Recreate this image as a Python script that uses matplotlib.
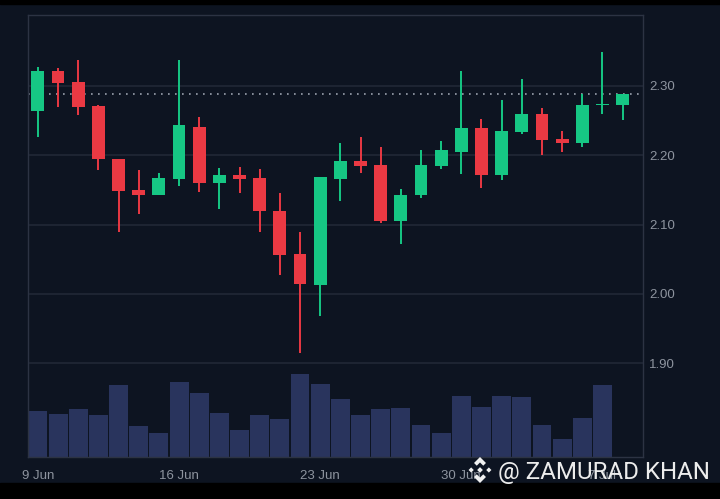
import numpy as np
import matplotlib
matplotlib.use("Agg")
import matplotlib.pyplot as plt
from matplotlib.patches import Rectangle, Polygon

# ---- data ----
opens  = [2.264, 2.322, 2.306, 2.271, 2.195, 2.150, 2.142, 2.166, 2.241, 2.160,
          2.172, 2.167, 2.120, 2.058, 2.013, 2.166, 2.191, 2.186, 2.105, 2.142,
          2.185, 2.205, 2.240, 2.171, 2.234, 2.259, 2.223, 2.218, 2.272, 2.273]
closes = [2.322, 2.304, 2.270, 2.194, 2.148, 2.142, 2.167, 2.243, 2.160, 2.171,
          2.166, 2.119, 2.056, 2.014, 2.168, 2.191, 2.185, 2.105, 2.143, 2.186,
          2.207, 2.240, 2.171, 2.235, 2.259, 2.222, 2.218, 2.273, 2.274, 2.288]
highs  = [2.328, 2.326, 2.337, 2.273, 2.195, 2.179, 2.175, 2.337, 2.255, 2.181,
          2.183, 2.180, 2.145, 2.089, 2.168, 2.217, 2.227, 2.212, 2.151, 2.207,
          2.220, 2.322, 2.253, 2.280, 2.310, 2.268, 2.235, 2.289, 2.349, 2.288]
lows   = [2.226, 2.270, 2.258, 2.179, 2.089, 2.115, 2.142, 2.156, 2.147, 2.122,
          2.145, 2.089, 2.027, 1.914, 1.968, 2.134, 2.175, 2.102, 2.072, 2.138,
          2.180, 2.173, 2.152, 2.164, 2.230, 2.200, 2.204, 2.212, 2.259, 2.251]
volumes = [45.7, 43.4, 48.0, 42.0, 72.0, 31.0, 23.7, 75.4, 63.7, 44.4,
           27.4, 42.0, 38.4, 82.7, 73.4, 57.7, 42.0, 48.0, 49.0, 32.4,
           24.0, 61.0, 50.4, 61.4, 60.0, 32.4, 18.0, 39.4, 72.0, 0.0]
date_tick_idx = [0, 7, 14, 21, 28]
date_tick_labels = ["9 Jun", "16 Jun", "23 Jun", "30 Jun", "7 Jul"]
price_ticks = [1.90, 2.00, 2.10, 2.20, 2.30]
last_price = 2.288

# ---- style ----
BG = "#0d1421"
GREEN = "#16c784"
RED = "#ea3943"
VOL = "#29345d"
GRID = "#222a38"
FRAME = "#2c3343"
TXT = "#8e949f"

W, H = 720, 499
fig = plt.figure(figsize=(W / 100, H / 100), dpi=100, facecolor=BG)

L, R, T, B = 28, 643, 15, 457
rect = [L / W, 1 - B / H, (R - L) / W, (B - T) / H]

axv = fig.add_axes(rect, zorder=0)
axv.set_facecolor(BG)
ax = fig.add_axes(rect, zorder=1)
ax.set_facecolor("none")

x = np.arange(len(opens))
o = np.array(opens); c = np.array(closes)
hi = np.array(highs); lo = np.array(lows)
up = c >= o
cols = np.where(up, GREEN, RED)

xlim = (-0.49, 30.01)

# volume
axv.bar(x, volumes, width=0.94, color=VOL, edgecolor="none")
axv.set_xlim(*xlim)
axv.set_ylim(0, 442)
axv.axis("off")

# candles
ax.vlines(x, lo, hi, colors=cols, linewidth=1.4, zorder=2)
body_h = np.maximum(np.abs(c - o), 0.0025)
ax.bar(x, body_h, bottom=np.minimum(o, c), width=0.64, color=cols,
       edgecolor="none", zorder=3)

ax.axhline(last_price, color="#9aa1ad", linewidth=1.2, linestyle=(0, (1, 3.2)),
           zorder=1)

ax.set_xlim(*xlim)
ax.set_ylim(1.7643, 2.4025)
ax.set_yticks(price_ticks)
ax.set_yticklabels([f"{p:.2f}" for p in price_ticks])
ax.yaxis.tick_right()
ax.set_xticks(date_tick_idx)
ax.set_xticklabels(date_tick_labels)
ax.grid(axis="y", color=GRID, linewidth=1.1, zorder=0)
ax.set_axisbelow(True)
ax.tick_params(axis="both", length=0, colors=TXT, labelsize=9.5)
ax.tick_params(axis="y", pad=4.5)
ax.tick_params(axis="x", pad=9.5)
for lab in ax.get_xticklabels() + ax.get_yticklabels():
    lab.set_fontfamily("Liberation Sans")
for s in ax.spines.values():
    s.set_color(FRAME)
    s.set_linewidth(1.0)

# black bands (screenshot borders)
fig.patches.append(Rectangle((0, 0), 1, 16 / H, transform=fig.transFigure,
                             color="black", zorder=10))
fig.patches.append(Rectangle((0, 1 - 4 / H), 1, 4 / H, transform=fig.transFigure,
                             color="black", zorder=10))

# watermark
fig.text(498 / W, 1 - 472.5 / H, "@ ZAMURAD KHAN", ha="left", va="center",
         color="#ececec", fontsize=17.4, family="Roboto", zorder=20)

axl = fig.add_axes([467 / W, 1 - 483 / H, 26 / W, 26 / H], zorder=20)
axl.set_xlim(-1, 1); axl.set_ylim(-1, 1); axl.axis("off")
shapes = [
    [(0, 0.22), (0.22, 0), (0, -0.22), (-0.22, 0)],
    [(-0.68, 0.2), (-0.48, 0), (-0.68, -0.2), (-0.88, 0)],
    [(0.68, 0.2), (0.88, 0), (0.68, -0.2), (0.48, 0)],
    [(0, 1), (0.46, 0.54), (0.25, 0.33), (0, 0.58), (-0.25, 0.33), (-0.46, 0.54)],
    [(0, -1), (0.46, -0.54), (0.25, -0.33), (0, -0.58), (-0.25, -0.33), (-0.46, -0.54)],
]
for sh in shapes:
    axl.add_patch(Polygon(sh, closed=True, facecolor="#f0f0f0",
                          edgecolor="none"))

fig.savefig("out.png", dpi=100, facecolor=BG)
